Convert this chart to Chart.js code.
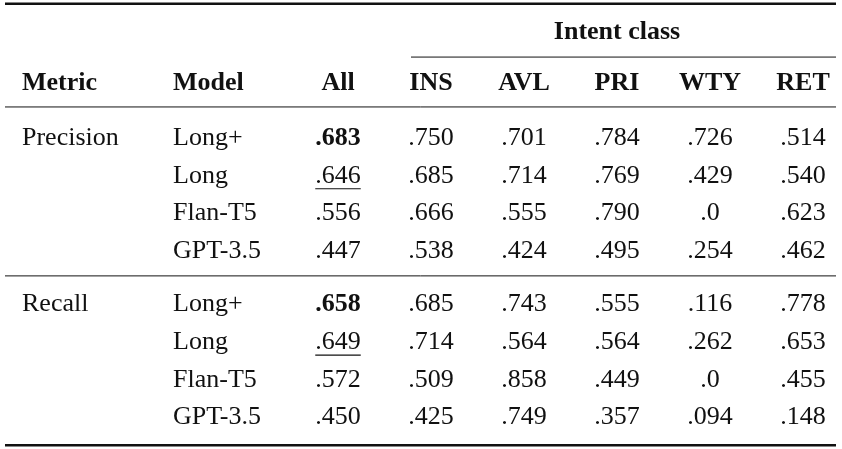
<!DOCTYPE html>
<html>
<head>
<meta charset="utf-8">
<script src="https://cdn.jsdelivr.net/npm/chart.js@4/dist/chart.umd.min.js"></script>
<style>
  html, body { margin: 0; padding: 0; background: #fff; }
  #wrap { width: 842px; height: 449px; }
</style>
</head>
<body>
<div id="wrap"><canvas id="tbl"></canvas></div>
<script>
const columns = ["All", "INS", "AVL", "PRI", "WTY", "RET"];
const metrics = ["Precision", "Recall"];
const models = ["Long+", "Long", "Flan-T5", "GPT-3.5"];

const precision = [
    [".683", ".750", ".701", ".784", ".726", ".514"],
    [".646", ".685", ".714", ".769", ".429", ".540"],
    [".556", ".666", ".555", ".790", ".0", ".623"],
    [".447", ".538", ".424", ".495", ".254", ".462"]
];
const recall = [
    [".658", ".685", ".743", ".555", ".116", ".778"],
    [".649", ".714", ".564", ".564", ".262", ".653"],
    [".572", ".509", ".858", ".449", ".0", ".455"],
    [".450", ".425", ".749", ".357", ".094", ".148"]
];
const groupHeader = "Intent class";

const FONT = "26px 'Liberation Serif', serif";
const BOLD = "bold 26px 'Liberation Serif', serif";

const rows = [];
[precision, recall].forEach((block, g) => {
    block.forEach((vals, i) => {
        rows.push({ metric: i === 0 ? metrics[g] : "", model: models[i], vals, y: g * 4 + i + g * 0.4, best: i === 0, second: i === 1 });
    });
});
const HEADER_Y = -1.45, GROUP_Y = -2.8;

const datasets = rows.map(r => ({
    data: columns.map(c => ({ x: c, y: r.y })),
    pointRadius: 0, showLine: false
}));
datasets.push({ data: columns.map(c => ({ x: c, y: HEADER_Y })), pointRadius: 0, showLine: false });

const tablePlugin = {
    id: "tablePlugin",
    afterDatasetsDraw(chart) {
        const ctx = chart.ctx;
        const ys = chart.scales.y, xs = chart.scales.x;
        const W = chart.width;
        ctx.save();
        ctx.fillStyle = "#111";
        ctx.strokeStyle = "#111";
        ctx.textBaseline = "middle";

        rows.forEach((r, ri) => {
            const meta = chart.getDatasetMeta(ri);
            const py = ys.getPixelForValue(r.y);
            ctx.font = FONT;
            ctx.textAlign = "left";
            if (r.metric) ctx.fillText(r.metric, 22, py);
            ctx.fillText(r.model, 173, py);
            meta.data.forEach((pt, ci) => {
                ctx.textAlign = "center";
                ctx.font = (ci === 0 && r.best) ? BOLD : FONT;
                ctx.fillText(r.vals[ci], pt.x, py);
                if (ci === 0 && r.second) {
                    const w = ctx.measureText(r.vals[ci]).width;
                    ctx.lineWidth = 1.2;
                    ctx.beginPath();
                    ctx.moveTo(pt.x - w / 2, py + 13);
                    ctx.lineTo(pt.x + w / 2, py + 13);
                    ctx.stroke();
                }
            });
        });

        // header row
        const hy = ys.getPixelForValue(HEADER_Y);
        ctx.font = BOLD;
        ctx.textAlign = "left";
        ctx.fillText("Metric", 22, hy);
        ctx.fillText("Model", 173, hy);
        ctx.textAlign = "center";
        chart.getDatasetMeta(rows.length).data.forEach((pt, ci) => ctx.fillText(columns[ci], pt.x, hy));
        const x1 = xs.getPixelForValue(1), x5 = xs.getPixelForValue(5);
        ctx.fillText(groupHeader, (x1 + x5) / 2, ys.getPixelForValue(GROUP_Y));

        const rule = (v, lw, from, to) => {
            const p = ys.getPixelForValue(v);
            ctx.lineWidth = lw;
            ctx.beginPath();
            ctx.moveTo(from, p);
            ctx.lineTo(to, p);
            ctx.stroke();
        };
        rule(-3.55, 2.4, 5, W - 6);
        rule(-2.14, 1, x1 - 20, W - 6);
        rule(-0.82, 1, 5, W - 6);
        rule(3.65, 1, 5, W - 6);
        rule(8.13, 2.4, 5, W - 6);
        ctx.restore();
    }
};

new Chart(document.getElementById("tbl"), {
    type: "line",
    data: { labels: columns, datasets },
    options: {
        responsive: true,
        maintainAspectRatio: false,
        animation: false,
        events: [],
        layout: { padding: { left: 338, right: 39, top: 0, bottom: 0 } },
        plugins: { legend: { display: false }, tooltip: { enabled: false } },
        scales: {
            x: { type: "category", offset: false, display: false },
            y: { type: "linear", reverse: true, min: -3.65, max: 8.23, display: false }
        }
    },
    plugins: [tablePlugin]
});
</script>
</body>
</html>
